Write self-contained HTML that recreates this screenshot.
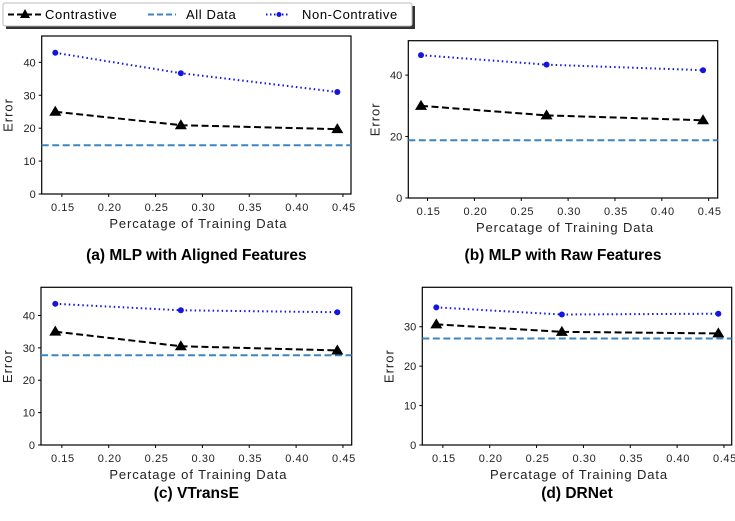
<!DOCTYPE html>
<html><head><meta charset="utf-8"><style>
body{margin:0;background:#fff;width:735px;height:516px;overflow:hidden}
svg{font-family:"Liberation Sans",Arial,sans-serif}
</style></head><body>
<svg id="fig" width="735" height="516" xmlns="http://www.w3.org/2000/svg">
<g>
<rect x="6" y="6" width="409" height="23" fill="#333"/>
<rect x="3" y="3" width="409" height="23" fill="#fff" stroke="#bbb" rx="2"/>
<line x1="8" y1="14.5" x2="42" y2="14.5" stroke="#000" stroke-width="2" stroke-dasharray="6,3"/>
<path d="M25,9 L30,18 L20,18Z" fill="#000"/>
<text x="45" y="19" font-size="13" letter-spacing="0.6">Contrastive</text>
<line x1="148" y1="14.5" x2="176" y2="14.5" stroke="#3d85c0" stroke-width="2" stroke-dasharray="6,3"/>
<text x="186" y="19" font-size="13" letter-spacing="0.6">All Data</text>
<line x1="266" y1="14.5" x2="290" y2="14.5" stroke="#1515e0" stroke-width="2" stroke-dasharray="1.5,2.5"/>
<circle cx="279" cy="14.5" r="2.5" fill="#1515e0"/>
<text x="302" y="19" font-size="13" letter-spacing="0.6">Non-Contrative</text>
</g>
</svg>
<script>
const xValues=[0.143,0.277,0.444];
const xTicks=[0.15,0.20,0.25,0.30,0.35,0.40,0.45];
const xTickLabels=["0.15","0.20","0.25","0.30","0.35","0.40","0.45"];
const titles=["(a) MLP with Aligned Features","(b) MLP with Raw Features","(c) VTransE","(d) DRNet"];
const contrastive=[[25.0,20.9,19.7],[30.0,26.9,25.3],[35.0,30.5,29.2],[30.6,28.7,28.3]];
const nonContrastive=[[42.9,36.7,31.0],[46.5,43.4,41.6],[43.6,41.6,41.0],[34.9,33.1,33.3]];
const allData=[14.8,18.8,27.7,27.0];
const yTicks=[[0,10,20,30,40],[0,20,40],[0,10,20,30,40],[0,10,20,30]];
const yMax=[48,51.2,48.7,40];
const panels=[
 {L:41.7,R:351,T:36,B:194,p0:55.3,tt:66},
 {L:408.3,R:717.7,T:40.7,B:198,p0:421,tt:62},
 {L:41,R:351.7,T:287.3,B:445,p0:55.3,tt:53},
 {L:422.3,R:731.7,T:287.3,B:445,p0:436.3,tt:53}];
const NS="http://www.w3.org/2000/svg";
const svg=document.getElementById('fig');
function mk(tag,attrs,parent,text){const e=document.createElementNS(NS,tag);for(const k in attrs)e.setAttribute(k,attrs[k]);if(text!==undefined)e.textContent=text;parent.appendChild(e);return e;}
panels.forEach((p,i)=>{
 const g=mk('g',{},svg);
 
 
 const sx=x=>p.p0+(x-0.143)*937;
 const sy=y=>p.B-(y/yMax[i])*(p.B-p.T);
 const box=mk('rect',{x:p.L,y:p.T,width:p.R-p.L,height:p.B-p.T,fill:'none',stroke:'#000','stroke-width':1.2},g);
 
 
 xTicks.forEach((t,j)=>{
  mk('line',{x1:sx(t),x2:sx(t),y1:p.B,y2:p.B+3,stroke:'#000'},g);
  const tl=mk('text',{x:sx(t)+1,y:p.B+17,'font-size':11,'text-anchor':'middle','letter-spacing':0.6,fill:'#222'},g,xTickLabels[j]);
  
  
 });
 yTicks[i].forEach(t=>{
  mk('line',{x1:p.L-3,x2:p.L,y1:sy(t),y2:sy(t),stroke:'#000'},g);
  const tl=mk('text',{x:p.L-6,y:sy(t)+4,'font-size':11,'text-anchor':'end',fill:'#222'},g,String(t));
  
  
 });
 const xl=mk('text',{x:(p.L+p.R)/2+2,y:p.B+34,'font-size':13,'text-anchor':'middle','letter-spacing':0.9,fill:'#222'},g,'Percatage of Training Data');
 
 
 const yx=p.L-29,yy=(p.T+p.B)/2;
 const yl=mk('text',{x:yx,y:yy,'font-size':13,'text-anchor':'middle','letter-spacing':1,fill:'#222',transform:`rotate(-90 ${yx} ${yy})`},g,'Error');
 
 
 const tt=mk('text',{x:(p.L+p.R)/2,y:p.B+p.tt,'font-size':15.5,'font-weight':'bold','text-anchor':'middle'},g,titles[i]);
 
 
 const al=mk('line',{x1:p.L,x2:p.R,y1:sy(allData[i]),y2:sy(allData[i]),stroke:'#3d85c0','stroke-width':2,'stroke-dasharray':'7,3.5'},g);
 
 
 const np=mk('polyline',{points:xValues.map((x,j)=>sx(x)+','+sy(nonContrastive[i][j])).join(' '),fill:'none',stroke:'#1515e0','stroke-width':2,'stroke-dasharray':'1.5,3'},g);
 
 
 xValues.forEach((x,j)=>{
  const c=mk('circle',{cx:sx(x),cy:sy(nonContrastive[i][j]),r:3,fill:'#1515e0'},g);
  
  
 });
 const cp=mk('polyline',{points:xValues.map((x,j)=>sx(x)+','+sy(contrastive[i][j])).join(' '),fill:'none',stroke:'#000','stroke-width':2,'stroke-dasharray':'7,3.5'},g);
 
 
 xValues.forEach((x,j)=>{
  const cx=sx(x),cy=sy(contrastive[i][j]);
  const m=mk('path',{d:`M${cx},${cy-6} L${cx+6},${cy+4} L${cx-6},${cy+4}Z`,fill:'#000'},g);
  
  
 });
});
</script>
</body></html>
